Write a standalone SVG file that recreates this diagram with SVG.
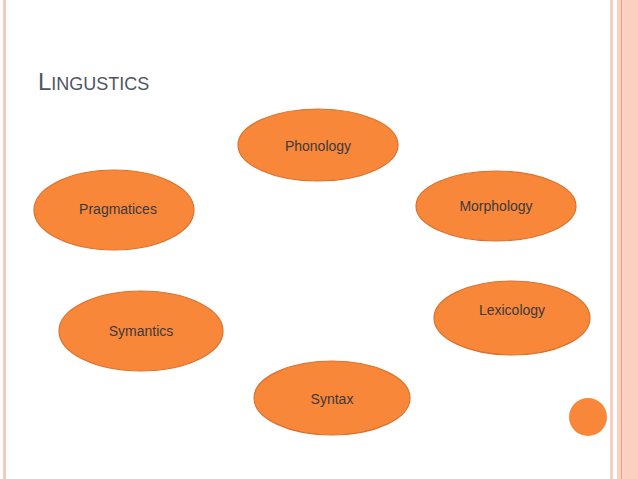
<svg xmlns="http://www.w3.org/2000/svg" width="638" height="479" viewBox="0 0 638 479">
<style>
.n ellipse{fill:#F9873A;stroke:#D9722E;stroke-width:1.2}
.n text{font-family:"Liberation Sans",Arial,sans-serif;font-size:14px;fill:#3a3a3a;text-anchor:middle}
</style>
<rect width="638" height="479" fill="#fff"/>
<rect x="3" y="0" width="3" height="479" fill="#F6C9BB"/>
<rect x="610" y="0" width="3" height="479" fill="#F8CFC0"/>
<rect x="617" y="0" width="21" height="479" fill="#FAD0C0"/>
<rect x="621" y="0" width="1" height="479" fill="#E8A08A"/>
<text x="38" y="90" font-family="Liberation Sans,Arial,sans-serif" fill="#4f5560"><tspan font-size="24">L</tspan><tspan font-size="18">INGUSTICS</tspan></text>
<g id="phonology" class="n"><ellipse cx="318" cy="145" rx="80" ry="36"/><text x="318" y="151">Phonology</text></g>
<g id="morphology" class="n"><ellipse cx="496" cy="206" rx="80" ry="35"/><text x="496" y="211">Morphology</text></g>
<g id="pragmatices" class="n"><ellipse cx="114" cy="210" rx="80" ry="40"/><text x="118" y="214">Pragmatices</text></g>
<g id="symantics" class="n"><ellipse cx="141" cy="331" rx="82" ry="40"/><text x="141" y="336">Symantics</text></g>
<g id="lexicology" class="n"><ellipse cx="512" cy="318" rx="78" ry="37"/><text x="512" y="315">Lexicology</text></g>
<g id="syntax" class="n"><ellipse cx="332" cy="398" rx="78" ry="37"/><text x="332" y="404">Syntax</text></g>
<g id="connectors"></g>
<circle cx="588" cy="417" r="19" fill="#F9873A"/>
</svg>
